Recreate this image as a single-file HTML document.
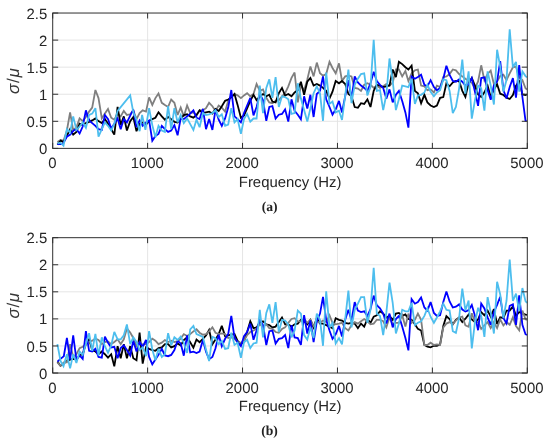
<!DOCTYPE html>
<html><head><meta charset="utf-8"><title>Figure</title>
<style>
html,body{margin:0;padding:0;background:#fff;}
svg{display:block;}
text{text-rendering:geometricPrecision;}
.tk{font-family:"Liberation Sans",sans-serif;font-size:14.90px;fill:#262626;}

.xl{font-family:"Liberation Sans",sans-serif;font-size:14.90px;fill:#262626;}
.yl{font-family:"Liberation Sans",sans-serif;font-size:17px;letter-spacing:0.7px;fill:#383838;}
.cap{font-family:"Liberation Serif","DejaVu Serif",serif;font-weight:bold;font-size:13.6px;fill:#222;}
</style></head><body>
<svg width="550" height="444" viewBox="0 0 550 444">
<rect width="550" height="444" fill="#fff"/>
<line x1="147.62" y1="13.03" x2="147.62" y2="148.38" stroke="#e2e2e2" stroke-width="0.9"/>
<line x1="242.54" y1="13.03" x2="242.54" y2="148.38" stroke="#e2e2e2" stroke-width="0.9"/>
<line x1="337.46" y1="13.03" x2="337.46" y2="148.38" stroke="#e2e2e2" stroke-width="0.9"/>
<line x1="432.38" y1="13.03" x2="432.38" y2="148.38" stroke="#e2e2e2" stroke-width="0.9"/>
<line x1="52.70" y1="121.31" x2="527.30" y2="121.31" stroke="#e2e2e2" stroke-width="0.9"/>
<line x1="52.70" y1="94.24" x2="527.30" y2="94.24" stroke="#e2e2e2" stroke-width="0.9"/>
<line x1="52.70" y1="67.17" x2="527.30" y2="67.17" stroke="#e2e2e2" stroke-width="0.9"/>
<line x1="52.70" y1="40.10" x2="527.30" y2="40.10" stroke="#e2e2e2" stroke-width="0.9"/>
<g clip-path="none">
<polyline points="57.4,142.0 60.5,140.0 63.5,140.7 66.9,130.5 70.1,112.3 73.2,130.5 76.4,127.2 79.6,118.4 82.7,121.1 85.9,117.0 89.1,111.6 92.2,107.6 95.4,90.0 98.5,98.1 101.8,118.4 104.9,113.6 108.0,108.9 111.2,117.7 114.3,119.7 117.6,113.6 120.7,116.4 123.8,110.9 126.9,115.0 130.2,114.3 133.3,110.3 136.5,119.1 139.6,113.0 142.7,110.3 146.0,111.6 149.1,97.4 152.3,104.9 155.4,98.1 158.5,93.4 161.8,102.8 164.9,104.9 168.1,106.9 171.2,99.5 174.4,102.8 177.6,115.0 180.7,107.6 183.8,116.4 187.1,105.5 190.2,113.0 193.4,112.3 196.5,115.7 199.6,110.3 202.9,110.3 206.0,108.2 209.1,102.8 212.4,106.2 215.5,110.9 218.7,105.5 221.8,107.6 225.1,111.6 228.2,100.8 231.3,96.8 234.5,94.1 237.6,95.4 240.9,98.1 244.0,95.4 247.1,93.2 250.3,96.3 253.5,94.0 256.6,84.0 259.8,90.9 263.0,89.4 266.3,97.8 269.3,102.4 272.4,103.2 275.6,100.9 278.8,100.1 282.0,96.3 285.1,93.2 288.3,86.3 291.5,77.9 294.6,72.5 297.8,102.4 300.9,85.6 304.1,90.2 307.3,79.4 310.4,66.4 313.6,76.4 316.8,62.6 320.0,73.3 323.0,75.6 326.2,74.1 329.5,61.8 332.5,68.0 335.7,73.3 339.0,63.4 342.0,81.0 345.2,76.4 348.4,75.6 351.5,76.4 354.7,87.9 357.9,88.6 361.0,90.9 364.2,84.8 367.4,83.3 370.5,84.8 373.7,87.9 376.8,85.6 380.0,87.9 383.2,86.3 386.3,84.0 389.5,85.6 392.7,82.5 395.9,69.5 398.9,69.5 402.2,76.4 405.4,71.0 408.4,81.0 411.6,73.3 414.9,70.3 417.9,69.5 421.1,85.6 424.4,86.3 427.4,90.2 430.6,89.4 433.9,92.5 436.9,85.6 440.1,87.1 443.3,77.1 446.4,76.4 449.6,74.1 452.8,69.5 455.9,70.3 459.1,74.1 462.3,76.4 465.4,78.8 468.6,80.8 471.8,82.8 474.9,88.2 478.1,81.5 481.2,65.3 484.4,80.1 487.6,74.0 490.7,70.7 493.9,84.2 497.1,81.5 500.2,76.0 503.4,74.7 506.5,80.1 509.7,73.4 512.9,67.3 516.0,66.6 519.2,77.4 522.4,80.1 525.5,88.2 527.0,89.6" fill="none" stroke="#7f7f7f" stroke-width="1.8" stroke-linejoin="miter" stroke-miterlimit="3"/>
<polyline points="57.4,144.7 60.8,140.7 63.5,142.0 66.9,135.9 70.1,129.2 73.2,134.6 76.4,131.9 79.6,123.8 82.7,125.1 85.9,123.1 89.1,121.8 92.2,120.4 95.4,118.4 98.5,121.1 101.8,123.1 104.9,119.1 108.1,123.8 111.2,129.2 114.3,134.6 117.6,106.9 120.7,125.1 123.8,116.4 126.9,130.5 130.2,121.1 133.3,117.0 136.5,131.2 139.6,123.8 142.7,122.4 146.0,124.5 149.1,121.1 152.3,119.1 155.4,117.7 158.5,112.3 161.8,116.4 164.9,119.7 168.1,117.0 171.2,119.1 174.4,121.8 177.6,122.4 180.7,119.1 183.8,115.0 187.1,114.3 190.2,116.4 193.4,117.7 196.5,115.0 199.6,110.3 202.9,113.0 206.0,112.3 209.1,111.6 212.4,113.6 215.5,108.9 218.7,110.9 221.8,106.2 225.1,100.8 228.2,99.5 231.3,97.4 234.5,94.1 237.6,104.9 240.9,117.7 244.0,115.7 247.1,108.5 250.3,100.9 253.5,94.8 256.6,100.1 259.8,96.3 263.0,94.0 266.3,96.3 269.3,94.8 272.4,101.6 275.6,102.4 278.8,93.2 282.0,87.9 285.1,95.5 288.3,94.0 291.5,96.3 294.6,92.5 297.8,90.2 300.9,81.7 304.1,94.8 307.3,81.7 310.4,77.9 313.6,85.6 316.8,84.0 320.0,85.6 323.0,87.9 326.2,90.9 329.5,98.6 332.5,91.7 335.7,81.0 339.0,83.3 342.0,81.0 345.2,84.0 348.4,94.0 351.5,96.3 354.7,107.0 357.9,107.8 361.0,103.2 364.2,103.9 367.4,99.3 370.5,107.0 373.7,90.9 376.8,84.8 380.0,85.6 383.2,87.1 386.3,86.3 389.5,85.6 392.7,69.5 395.9,77.1 398.9,61.8 402.2,64.1 405.4,67.2 408.4,69.5 411.6,65.7 414.9,90.9 417.9,93.2 421.1,103.2 424.4,94.8 427.4,102.4 430.6,105.5 433.9,107.0 436.9,105.5 440.1,97.8 443.3,97.1 446.4,83.3 449.6,86.3 452.8,82.5 455.9,81.0 459.1,81.0 462.3,90.9 465.4,97.0 468.6,83.0 471.8,78.0 474.9,85.6 478.1,94.4 481.2,97.0 484.4,92.3 487.6,85.6 490.7,97.0 493.9,89.6 497.1,84.2 500.2,93.7 503.4,95.0 506.5,97.7 509.7,99.0 512.9,95.0 516.0,85.6 519.2,81.5 522.4,94.4 525.5,95.0 527.0,94.5" fill="none" stroke="#000000" stroke-width="1.8" stroke-linejoin="miter" stroke-miterlimit="3"/>
<polyline points="57.4,144.1 62.8,144.1 66.9,136.6 70.3,134.6 73.6,130.5 76.4,129.2 79.6,133.5 82.7,126.5 85.9,110.3 87.8,117.0 89.9,121.1 92.2,123.1 95.4,125.8 98.5,129.2 101.8,129.9 104.9,115.0 108.1,119.1 111.2,128.5 114.3,123.8 117.6,118.4 120.7,129.2 123.8,119.1 126.9,122.4 130.2,115.7 133.3,109.6 136.5,127.2 139.6,120.4 142.7,125.8 146.0,122.4 149.1,120.4 152.3,140.7 155.4,135.9 158.5,133.9 161.8,125.8 164.9,129.2 168.1,131.9 171.2,130.5 174.4,125.1 177.6,135.3 180.7,118.4 183.8,119.1 187.1,116.4 190.2,113.6 193.4,110.3 196.5,117.7 199.6,119.1 202.9,108.9 206.0,129.2 209.1,119.1 212.4,129.9 215.5,109.6 218.7,119.7 221.8,125.8 225.1,118.4 228.2,107.6 231.3,90.0 234.5,116.4 237.6,119.1 240.9,122.4 244.0,113.0 247.1,105.5 250.3,97.8 253.5,115.4 256.6,107.0 259.8,94.0 263.0,100.1 266.3,120.8 269.3,107.0 272.4,106.2 275.6,118.5 278.8,114.7 282.0,113.9 285.1,109.3 288.3,121.6 291.5,99.3 294.6,110.8 297.8,114.7 300.9,119.3 304.1,96.3 307.3,108.5 310.4,94.8 313.6,117.0 316.8,94.0 320.0,90.9 323.0,76.4 326.2,99.3 329.5,107.0 332.5,114.7 335.7,109.3 339.0,100.9 342.0,112.4 345.2,96.3 348.4,80.2 351.5,98.6 354.7,76.4 357.9,82.5 361.0,85.6 364.2,87.9 367.4,90.9 370.5,83.3 373.7,71.8 376.8,81.0 380.0,84.8 383.2,87.9 386.3,98.6 389.5,89.4 392.7,102.4 395.9,94.8 398.9,90.9 402.2,100.9 405.4,112.4 408.4,127.7 411.6,76.4 414.9,78.7 417.9,77.1 421.1,74.8 424.4,84.8 427.4,86.3 430.6,80.2 433.9,87.1 436.9,90.2 440.1,87.9 443.3,78.7 446.4,65.7 449.6,74.8 452.8,81.0 455.9,81.7 459.1,79.4 462.3,81.7 465.4,85.6 468.6,84.2 471.8,78.0 474.9,91.6 478.1,105.8 481.2,78.1 484.4,77.4 487.6,90.0 490.7,99.8 493.9,85.5 497.1,81.5 500.2,61.2 503.4,90.0 506.5,98.4 509.7,87.0 512.9,78.1 516.0,97.7 519.2,65.2 522.4,97.0 525.5,120.7 526.6,121.3" fill="none" stroke="#0000ff" stroke-width="1.8" stroke-linejoin="miter" stroke-miterlimit="3"/>
<polyline points="57.4,143.4 60.5,142.7 63.5,145.7 66.9,129.2 70.1,132.6 73.2,116.4 76.4,129.9 79.6,126.5 82.7,122.4 85.9,127.8 89.1,115.0 92.2,113.6 95.4,108.2 98.5,136.6 101.8,129.2 104.9,122.4 108.0,125.8 111.2,130.5 114.3,123.8 117.6,110.9 130.2,95.4 133.3,112.3 136.2,119.1 139.6,131.2 142.1,115.0 145.4,129.9 149.1,108.2 152.3,125.1 155.4,137.3 158.5,125.8 161.8,130.5 164.9,131.9 168.1,106.2 171.2,129.2 174.4,108.2 177.6,122.4 180.7,115.0 183.8,123.1 187.1,118.4 193.4,129.9 196.5,119.7 199.6,127.2 202.9,113.0 206.0,115.0 209.1,114.3 212.4,113.0 215.5,110.3 218.7,117.0 221.8,114.3 225.1,125.8 228.2,124.5 231.3,108.2 234.5,122.4 237.6,119.1 240.9,133.9 244.0,119.1 247.1,113.9 250.3,121.6 253.5,118.5 256.6,118.5 259.8,85.6 263.0,113.1 266.3,87.9 269.3,79.4 272.4,97.8 275.6,77.1 278.8,107.0 282.0,96.3 285.1,97.1 288.3,99.3 291.5,113.9 294.6,113.1 297.8,83.3 300.9,98.6 304.1,110.1 307.3,121.6 310.4,108.5 313.6,93.2 316.8,86.3 320.0,93.2 323.0,120.8 326.2,72.5 329.5,103.9 332.5,101.6 335.7,112.4 339.0,110.8 342.0,120.0 345.2,95.5 348.4,69.5 351.5,103.2 354.7,84.8 357.9,78.7 361.0,74.1 364.2,73.3 367.4,95.5 370.5,87.1 373.7,39.8 376.8,90.9 380.0,90.2 383.2,110.1 386.3,94.8 389.5,58.5 392.7,81.0 395.9,110.1 398.9,99.3 402.2,85.6 405.4,86.3 408.4,87.1 411.6,78.7 414.9,103.9 417.9,95.5 421.1,94.8 424.4,92.5 427.4,84.8 430.6,91.7 433.9,96.3 436.9,92.5 440.1,90.2 443.3,79.4 446.4,80.2 449.6,90.9 452.8,113.1 455.9,107.0 459.1,88.6 462.3,59.5 465.4,93.6 468.6,71.4 471.8,118.7 474.9,100.4 478.1,85.6 481.2,88.3 484.4,110.6 487.6,71.4 490.7,85.5 493.9,104.5 497.1,49.7 500.2,66.6 503.4,91.6 506.5,80.1 509.7,29.4 512.9,67.3 516.0,61.9 519.2,91.6 522.4,71.4 525.5,76.1 527.0,77.4" fill="none" stroke="#4dbeee" stroke-width="1.8" stroke-linejoin="miter" stroke-miterlimit="3"/>
</g>
<rect x="52.70" y="13.03" width="474.60" height="135.35" fill="none" stroke="#303030" stroke-width="1"/>
<line x1="52.70" y1="148.38" x2="52.70" y2="142.88" stroke="#303030" stroke-width="1"/>
<line x1="52.70" y1="13.03" x2="52.70" y2="18.53" stroke="#303030" stroke-width="1"/>
<line x1="52.70" y1="148.38" x2="58.20" y2="148.38" stroke="#303030" stroke-width="1"/>
<line x1="527.30" y1="148.38" x2="521.80" y2="148.38" stroke="#303030" stroke-width="1"/>
<line x1="147.62" y1="148.38" x2="147.62" y2="142.88" stroke="#303030" stroke-width="1"/>
<line x1="147.62" y1="13.03" x2="147.62" y2="18.53" stroke="#303030" stroke-width="1"/>
<line x1="52.70" y1="121.31" x2="58.20" y2="121.31" stroke="#303030" stroke-width="1"/>
<line x1="527.30" y1="121.31" x2="521.80" y2="121.31" stroke="#303030" stroke-width="1"/>
<line x1="242.54" y1="148.38" x2="242.54" y2="142.88" stroke="#303030" stroke-width="1"/>
<line x1="242.54" y1="13.03" x2="242.54" y2="18.53" stroke="#303030" stroke-width="1"/>
<line x1="52.70" y1="94.24" x2="58.20" y2="94.24" stroke="#303030" stroke-width="1"/>
<line x1="527.30" y1="94.24" x2="521.80" y2="94.24" stroke="#303030" stroke-width="1"/>
<line x1="337.46" y1="148.38" x2="337.46" y2="142.88" stroke="#303030" stroke-width="1"/>
<line x1="337.46" y1="13.03" x2="337.46" y2="18.53" stroke="#303030" stroke-width="1"/>
<line x1="52.70" y1="67.17" x2="58.20" y2="67.17" stroke="#303030" stroke-width="1"/>
<line x1="527.30" y1="67.17" x2="521.80" y2="67.17" stroke="#303030" stroke-width="1"/>
<line x1="432.38" y1="148.38" x2="432.38" y2="142.88" stroke="#303030" stroke-width="1"/>
<line x1="432.38" y1="13.03" x2="432.38" y2="18.53" stroke="#303030" stroke-width="1"/>
<line x1="52.70" y1="40.10" x2="58.20" y2="40.10" stroke="#303030" stroke-width="1"/>
<line x1="527.30" y1="40.10" x2="521.80" y2="40.10" stroke="#303030" stroke-width="1"/>
<line x1="527.30" y1="148.38" x2="527.30" y2="142.88" stroke="#303030" stroke-width="1"/>
<line x1="527.30" y1="13.03" x2="527.30" y2="18.53" stroke="#303030" stroke-width="1"/>
<line x1="52.70" y1="13.03" x2="58.20" y2="13.03" stroke="#303030" stroke-width="1"/>
<line x1="527.30" y1="13.03" x2="521.80" y2="13.03" stroke="#303030" stroke-width="1"/>
<text transform="translate(52.30,167.88) scale(1.0000,1)" text-anchor="middle" class="tk">0</text>
<text transform="translate(147.22,167.88) scale(1.0000,1)" text-anchor="middle" class="tk">1000</text>
<text transform="translate(242.14,167.88) scale(1.0000,1)" text-anchor="middle" class="tk">2000</text>
<text transform="translate(337.06,167.88) scale(1.0000,1)" text-anchor="middle" class="tk">3000</text>
<text transform="translate(431.98,167.88) scale(1.0000,1)" text-anchor="middle" class="tk">4000</text>
<text transform="translate(526.90,167.88) scale(1.0000,1)" text-anchor="middle" class="tk">5000</text>
<text transform="translate(47.20,153.98) scale(1.0000,1)" text-anchor="end" class="tk">0</text>
<text transform="translate(47.20,126.91) scale(1.0000,1)" text-anchor="end" class="tk">0.5</text>
<text transform="translate(47.20,99.84) scale(1.0000,1)" text-anchor="end" class="tk">1</text>
<text transform="translate(47.20,72.77) scale(1.0000,1)" text-anchor="end" class="tk">1.5</text>
<text transform="translate(47.20,45.70) scale(1.0000,1)" text-anchor="end" class="tk">2</text>
<text transform="translate(47.20,18.63) scale(1.0000,1)" text-anchor="end" class="tk">2.5</text>
<text transform="translate(290.10,186.73) scale(1.0000,1)" text-anchor="middle" class="xl">Frequency (Hz)</text>
<text transform="translate(18.7,80.70) rotate(-90)" text-anchor="middle" class="yl"><tspan font-style="italic">σ</tspan>/<tspan font-style="italic">μ</tspan></text>
<text x="269.60" y="211.38" text-anchor="middle" class="cap">(a)</text>
<line x1="147.62" y1="237.68" x2="147.62" y2="373.03" stroke="#e2e2e2" stroke-width="0.9"/>
<line x1="242.54" y1="237.68" x2="242.54" y2="373.03" stroke="#e2e2e2" stroke-width="0.9"/>
<line x1="337.46" y1="237.68" x2="337.46" y2="373.03" stroke="#e2e2e2" stroke-width="0.9"/>
<line x1="432.38" y1="237.68" x2="432.38" y2="373.03" stroke="#e2e2e2" stroke-width="0.9"/>
<line x1="52.70" y1="345.96" x2="527.30" y2="345.96" stroke="#e2e2e2" stroke-width="0.9"/>
<line x1="52.70" y1="318.89" x2="527.30" y2="318.89" stroke="#e2e2e2" stroke-width="0.9"/>
<line x1="52.70" y1="291.82" x2="527.30" y2="291.82" stroke="#e2e2e2" stroke-width="0.9"/>
<line x1="52.70" y1="264.75" x2="527.30" y2="264.75" stroke="#e2e2e2" stroke-width="0.9"/>
<g clip-path="none">
<polyline points="57.4,361.6 60.5,365.7 63.8,363.6 66.9,360.9 70.1,359.6 73.2,358.9 76.4,359.6 79.6,355.5 82.7,354.2 85.9,344.1 89.1,339.3 92.2,350.1 95.4,351.5 98.5,354.2 101.8,351.5 104.9,354.2 108.0,357.6 111.2,354.2 114.3,366.4 117.6,346.1 120.7,358.2 123.8,344.1 126.9,358.2 130.2,346.1 133.3,358.2 136.5,360.3 139.6,332.6 142.7,363.6 146.0,347.4 149.1,348.8 152.3,350.1 155.4,350.8 158.5,348.1 161.8,347.4 164.9,344.1 168.1,344.1 171.2,347.4 174.4,346.1 177.6,343.4 180.7,345.4 183.8,340.1 187.1,337.4 190.2,342.2 193.4,347.6 196.5,339.5 199.6,342.2 202.9,338.8 206.0,335.4 209.1,330.0 212.4,344.2 215.5,339.5 218.7,334.1 221.8,325.9 225.1,336.1 228.2,335.4 231.3,334.7 234.5,334.1 237.6,340.8 240.9,344.2 244.0,341.5 247.1,332.0 250.3,321.3 253.5,328.2 256.6,327.4 259.8,322.8 263.0,321.3 266.3,324.3 269.3,325.1 272.4,327.4 275.6,326.6 278.8,322.1 282.0,317.5 285.1,324.3 288.3,324.3 291.5,326.6 294.6,324.3 297.8,323.6 300.9,319.8 304.1,321.3 307.3,324.3 310.4,319.8 313.6,327.4 316.8,318.2 320.0,323.6 323.0,323.6 326.2,325.1 329.5,326.6 332.5,328.2 335.7,318.2 339.0,319.8 342.0,320.5 345.2,322.8 348.4,323.6 351.5,322.8 354.7,323.6 357.9,328.2 361.0,323.6 364.2,326.6 367.4,319.0 370.5,322.8 373.7,316.7 376.8,315.2 380.0,311.3 383.2,313.6 386.3,317.5 389.5,315.9 392.7,319.8 395.9,313.6 398.9,312.9 402.2,315.9 405.4,314.4 408.4,319.0 411.6,319.8 414.9,324.3 417.9,328.9 421.1,330.5 424.4,345.0 427.4,346.6 430.6,347.3 433.9,345.8 436.9,345.8 440.1,344.3 443.3,325.9 446.4,316.2 449.6,319.0 452.8,324.3 455.9,319.8 459.1,317.5 462.3,322.0 465.4,318.7 468.6,314.6 471.8,319.4 474.9,322.0 478.1,319.4 481.2,312.0 484.4,315.3 487.6,310.6 490.7,316.6 493.9,309.2 497.1,324.0 500.2,317.3 503.4,318.0 506.5,310.6 509.7,310.6 512.9,306.5 516.0,316.0 519.2,312.0 522.4,313.3 525.5,314.6 527.0,315.0" fill="none" stroke="#000000" stroke-width="1.8" stroke-linejoin="miter" stroke-miterlimit="3"/>
<polyline points="57.4,362.3 60.5,365.7 63.8,362.3 66.9,362.3 70.1,344.1 73.2,356.9 76.4,354.2 79.6,348.1 82.7,346.8 85.9,344.1 89.1,342.0 92.2,340.7 95.4,338.6 98.5,340.0 101.8,344.1 104.9,342.0 108.0,341.4 111.2,344.1 114.3,342.0 117.6,339.3 120.7,344.1 123.8,339.3 126.9,328.5 130.2,332.6 133.3,338.0 136.5,346.1 139.6,342.0 142.7,344.7 146.0,344.1 149.1,342.0 152.3,338.6 155.4,340.7 158.5,344.1 161.8,342.7 164.9,340.0 168.1,342.0 171.2,340.7 174.4,342.0 177.6,341.4 180.7,338.6 183.8,334.1 187.1,336.1 190.2,334.1 193.4,331.4 196.5,329.3 199.6,332.7 202.9,334.7 206.0,334.1 209.1,331.4 212.4,327.3 215.5,332.7 218.7,334.1 221.8,333.4 225.1,334.1 228.2,338.1 231.3,337.4 234.5,338.8 237.6,342.2 240.9,342.8 244.0,340.8 247.1,335.1 250.3,332.0 253.5,330.5 256.6,328.9 259.8,324.3 263.0,326.6 266.3,324.3 269.3,328.2 272.4,328.9 275.6,332.0 278.8,332.8 282.0,328.9 285.1,327.4 288.3,322.8 291.5,319.0 294.6,318.2 297.8,321.3 300.9,321.3 304.1,319.0 307.3,322.8 310.4,319.8 313.6,325.9 316.8,321.3 320.0,322.8 323.0,320.5 326.2,322.1 329.5,315.2 332.5,322.8 335.7,324.3 339.0,323.6 342.0,322.8 345.2,328.2 348.4,330.5 351.5,325.1 354.7,322.1 357.9,323.6 361.0,321.3 364.2,319.0 367.4,321.3 370.5,324.3 373.7,323.6 376.8,319.8 380.0,319.8 383.2,321.3 386.3,327.4 389.5,317.5 392.7,324.3 395.9,322.8 398.9,322.8 402.2,315.2 405.4,326.6 408.4,313.6 411.6,322.8 414.9,319.8 417.9,313.6 421.1,319.8 424.4,345.0 427.4,345.0 430.6,342.7 433.9,345.0 436.9,344.3 440.1,345.0 443.3,327.4 446.4,323.6 449.6,322.1 452.8,324.3 455.9,320.5 459.1,317.5 462.3,316.6 465.4,325.4 468.6,326.8 471.8,313.3 474.9,322.0 478.1,322.0 481.2,328.8 484.4,325.4 487.6,322.0 490.7,328.1 493.9,322.0 497.1,328.1 500.2,319.4 503.4,325.4 506.5,322.0 509.7,324.8 512.9,317.3 516.0,326.1 519.2,330.2 522.4,310.6 525.5,319.4 527.0,320.0" fill="none" stroke="#7f7f7f" stroke-width="1.8" stroke-linejoin="miter" stroke-miterlimit="3"/>
<polyline points="57.4,361.6 60.5,358.9 63.8,356.2 66.9,338.0 70.1,359.6 73.2,335.3 76.4,359.6 79.6,355.5 82.7,358.9 85.9,331.2 89.1,350.8 92.2,351.5 95.4,348.8 98.5,356.9 101.8,357.6 104.9,336.6 108.0,342.7 111.2,347.4 114.3,346.8 117.6,358.2 120.7,348.1 123.8,345.4 126.9,350.1 130.2,355.5 133.3,340.7 136.5,351.5 139.6,342.0 142.7,346.8 146.0,340.0 149.1,356.9 152.3,364.3 155.4,359.6 158.5,354.9 161.8,348.8 164.9,355.5 168.1,356.2 171.2,354.9 174.4,350.1 177.6,340.7 180.7,343.4 183.8,355.7 187.1,335.4 190.2,352.3 193.4,351.6 196.5,353.0 199.6,351.6 202.9,340.1 206.0,351.6 209.1,359.1 212.4,357.0 215.5,348.2 218.7,334.7 221.8,346.2 225.1,338.8 228.2,334.1 231.3,315.8 234.5,337.4 237.6,342.2 240.9,346.2 244.0,336.1 247.1,332.0 250.3,323.6 253.5,339.7 256.6,330.5 259.8,319.8 263.0,325.1 266.3,345.0 269.3,331.2 272.4,330.5 275.6,343.5 278.8,338.9 282.0,338.1 285.1,335.1 288.3,348.1 291.5,325.1 294.6,337.4 297.8,338.1 300.9,345.0 304.1,315.2 307.3,333.5 310.4,320.5 313.6,342.0 316.8,321.3 320.0,313.6 323.0,296.8 326.2,319.8 329.5,330.5 332.5,338.9 335.7,334.3 339.0,325.9 342.0,336.6 345.2,319.8 348.4,309.8 351.5,320.5 354.7,302.1 357.9,310.6 361.0,312.1 364.2,311.3 367.4,315.9 370.5,309.0 373.7,295.6 376.8,305.2 380.0,308.3 383.2,313.6 386.3,323.6 389.5,313.6 392.7,327.4 395.9,319.0 398.9,315.9 402.2,326.6 405.4,338.1 408.4,350.4 411.6,299.1 414.9,303.7 417.9,302.1 421.1,297.5 424.4,307.5 427.4,310.6 430.6,302.1 433.9,312.9 436.9,315.9 440.1,315.2 443.3,302.1 446.4,291.4 449.6,301.4 452.8,307.5 455.9,306.7 459.1,304.4 462.3,309.5 465.4,311.5 468.6,310.2 471.8,305.0 474.9,315.6 478.1,330.2 481.2,303.5 484.4,308.5 487.6,317.3 490.7,324.8 493.9,312.2 497.1,304.8 500.2,296.7 503.4,318.0 506.5,323.4 509.7,305.8 512.9,304.4 516.0,324.8 519.2,295.4 522.4,324.8 525.5,334.2 527.0,335.0" fill="none" stroke="#0000ff" stroke-width="1.8" stroke-linejoin="miter" stroke-miterlimit="3"/>
<polyline points="57.4,344.1 60.5,360.9 63.5,366.1 66.9,354.2 70.1,368.4 73.2,354.2 76.4,363.0 79.6,351.5 82.7,354.9 85.9,344.1 89.1,333.2 92.2,350.8 95.4,333.9 98.5,355.5 101.8,337.3 104.9,346.1 108.0,352.8 111.2,345.4 114.3,331.9 117.6,339.3 120.7,339.3 123.8,335.3 126.9,324.5 130.2,344.1 133.3,337.3 136.5,342.0 139.6,350.1 142.7,347.4 146.0,356.2 149.1,331.2 152.3,349.5 155.4,360.3 158.5,348.8 161.8,356.9 164.9,354.2 168.1,333.2 171.2,345.4 174.4,337.3 177.6,340.0 180.7,336.6 183.8,342.8 187.1,353.0 190.2,329.3 193.4,325.9 196.5,334.1 199.6,335.4 202.9,336.8 206.0,349.6 209.1,361.1 212.4,336.8 215.5,338.1 218.7,344.2 221.8,340.8 225.1,348.9 228.2,348.2 231.3,332.7 234.5,344.9 237.6,342.8 240.9,357.7 244.0,342.2 247.1,339.7 250.3,348.1 253.5,343.5 256.6,342.7 259.8,309.8 263.0,337.4 266.3,312.9 269.3,304.4 272.4,322.8 275.6,302.1 278.8,332.0 282.0,319.8 285.1,320.5 288.3,324.3 291.5,337.4 294.6,330.5 297.8,310.6 300.9,313.6 304.1,335.1 307.3,339.7 310.4,327.4 313.6,338.1 316.8,313.6 320.0,319.8 323.0,345.8 326.2,291.4 329.5,327.4 332.5,322.8 335.7,343.5 339.0,338.1 342.0,344.3 345.2,319.0 348.4,290.7 351.5,327.4 354.7,309.8 357.9,303.7 361.0,297.1 364.2,297.1 367.4,322.8 370.5,309.8 373.7,267.8 376.8,313.6 380.0,315.9 383.2,335.1 386.3,312.9 389.5,282.7 392.7,302.9 395.9,333.5 398.9,323.6 402.2,309.8 405.4,311.3 408.4,311.3 411.6,302.9 414.9,325.1 417.9,322.8 421.1,321.3 424.4,315.9 427.4,308.3 430.6,316.7 433.9,322.8 436.9,317.5 440.1,311.3 443.3,303.7 446.4,309.8 449.6,310.6 452.8,331.2 455.9,332.8 459.1,318.2 462.3,288.7 465.4,310.5 468.6,300.5 471.8,348.4 474.9,322.7 478.1,307.8 481.2,315.5 484.4,336.9 487.6,297.1 490.7,312.2 493.9,333.5 497.1,281.7 500.2,294.4 503.4,318.0 506.5,301.0 509.7,259.5 512.9,301.0 516.0,293.7 519.2,311.0 522.4,288.0 525.5,301.2 527.0,303.0" fill="none" stroke="#4dbeee" stroke-width="1.8" stroke-linejoin="miter" stroke-miterlimit="3"/>
</g>
<rect x="52.70" y="237.68" width="474.60" height="135.35" fill="none" stroke="#303030" stroke-width="1"/>
<line x1="52.70" y1="373.03" x2="52.70" y2="367.53" stroke="#303030" stroke-width="1"/>
<line x1="52.70" y1="237.68" x2="52.70" y2="243.18" stroke="#303030" stroke-width="1"/>
<line x1="52.70" y1="373.03" x2="58.20" y2="373.03" stroke="#303030" stroke-width="1"/>
<line x1="527.30" y1="373.03" x2="521.80" y2="373.03" stroke="#303030" stroke-width="1"/>
<line x1="147.62" y1="373.03" x2="147.62" y2="367.53" stroke="#303030" stroke-width="1"/>
<line x1="147.62" y1="237.68" x2="147.62" y2="243.18" stroke="#303030" stroke-width="1"/>
<line x1="52.70" y1="345.96" x2="58.20" y2="345.96" stroke="#303030" stroke-width="1"/>
<line x1="527.30" y1="345.96" x2="521.80" y2="345.96" stroke="#303030" stroke-width="1"/>
<line x1="242.54" y1="373.03" x2="242.54" y2="367.53" stroke="#303030" stroke-width="1"/>
<line x1="242.54" y1="237.68" x2="242.54" y2="243.18" stroke="#303030" stroke-width="1"/>
<line x1="52.70" y1="318.89" x2="58.20" y2="318.89" stroke="#303030" stroke-width="1"/>
<line x1="527.30" y1="318.89" x2="521.80" y2="318.89" stroke="#303030" stroke-width="1"/>
<line x1="337.46" y1="373.03" x2="337.46" y2="367.53" stroke="#303030" stroke-width="1"/>
<line x1="337.46" y1="237.68" x2="337.46" y2="243.18" stroke="#303030" stroke-width="1"/>
<line x1="52.70" y1="291.82" x2="58.20" y2="291.82" stroke="#303030" stroke-width="1"/>
<line x1="527.30" y1="291.82" x2="521.80" y2="291.82" stroke="#303030" stroke-width="1"/>
<line x1="432.38" y1="373.03" x2="432.38" y2="367.53" stroke="#303030" stroke-width="1"/>
<line x1="432.38" y1="237.68" x2="432.38" y2="243.18" stroke="#303030" stroke-width="1"/>
<line x1="52.70" y1="264.75" x2="58.20" y2="264.75" stroke="#303030" stroke-width="1"/>
<line x1="527.30" y1="264.75" x2="521.80" y2="264.75" stroke="#303030" stroke-width="1"/>
<line x1="527.30" y1="373.03" x2="527.30" y2="367.53" stroke="#303030" stroke-width="1"/>
<line x1="527.30" y1="237.68" x2="527.30" y2="243.18" stroke="#303030" stroke-width="1"/>
<line x1="52.70" y1="237.68" x2="58.20" y2="237.68" stroke="#303030" stroke-width="1"/>
<line x1="527.30" y1="237.68" x2="521.80" y2="237.68" stroke="#303030" stroke-width="1"/>
<text transform="translate(52.30,392.53) scale(1.0000,1)" text-anchor="middle" class="tk">0</text>
<text transform="translate(147.22,392.53) scale(1.0000,1)" text-anchor="middle" class="tk">1000</text>
<text transform="translate(242.14,392.53) scale(1.0000,1)" text-anchor="middle" class="tk">2000</text>
<text transform="translate(337.06,392.53) scale(1.0000,1)" text-anchor="middle" class="tk">3000</text>
<text transform="translate(431.98,392.53) scale(1.0000,1)" text-anchor="middle" class="tk">4000</text>
<text transform="translate(526.90,392.53) scale(1.0000,1)" text-anchor="middle" class="tk">5000</text>
<text transform="translate(47.20,378.63) scale(1.0000,1)" text-anchor="end" class="tk">0</text>
<text transform="translate(47.20,351.56) scale(1.0000,1)" text-anchor="end" class="tk">0.5</text>
<text transform="translate(47.20,324.49) scale(1.0000,1)" text-anchor="end" class="tk">1</text>
<text transform="translate(47.20,297.42) scale(1.0000,1)" text-anchor="end" class="tk">1.5</text>
<text transform="translate(47.20,270.35) scale(1.0000,1)" text-anchor="end" class="tk">2</text>
<text transform="translate(47.20,243.28) scale(1.0000,1)" text-anchor="end" class="tk">2.5</text>
<text transform="translate(290.10,411.38) scale(1.0000,1)" text-anchor="middle" class="xl">Frequency (Hz)</text>
<text transform="translate(18.7,305.36) rotate(-90)" text-anchor="middle" class="yl"><tspan font-style="italic">σ</tspan>/<tspan font-style="italic">μ</tspan></text>
<text x="269.60" y="435.33" text-anchor="middle" class="cap">(b)</text>
</svg>
</body></html>
